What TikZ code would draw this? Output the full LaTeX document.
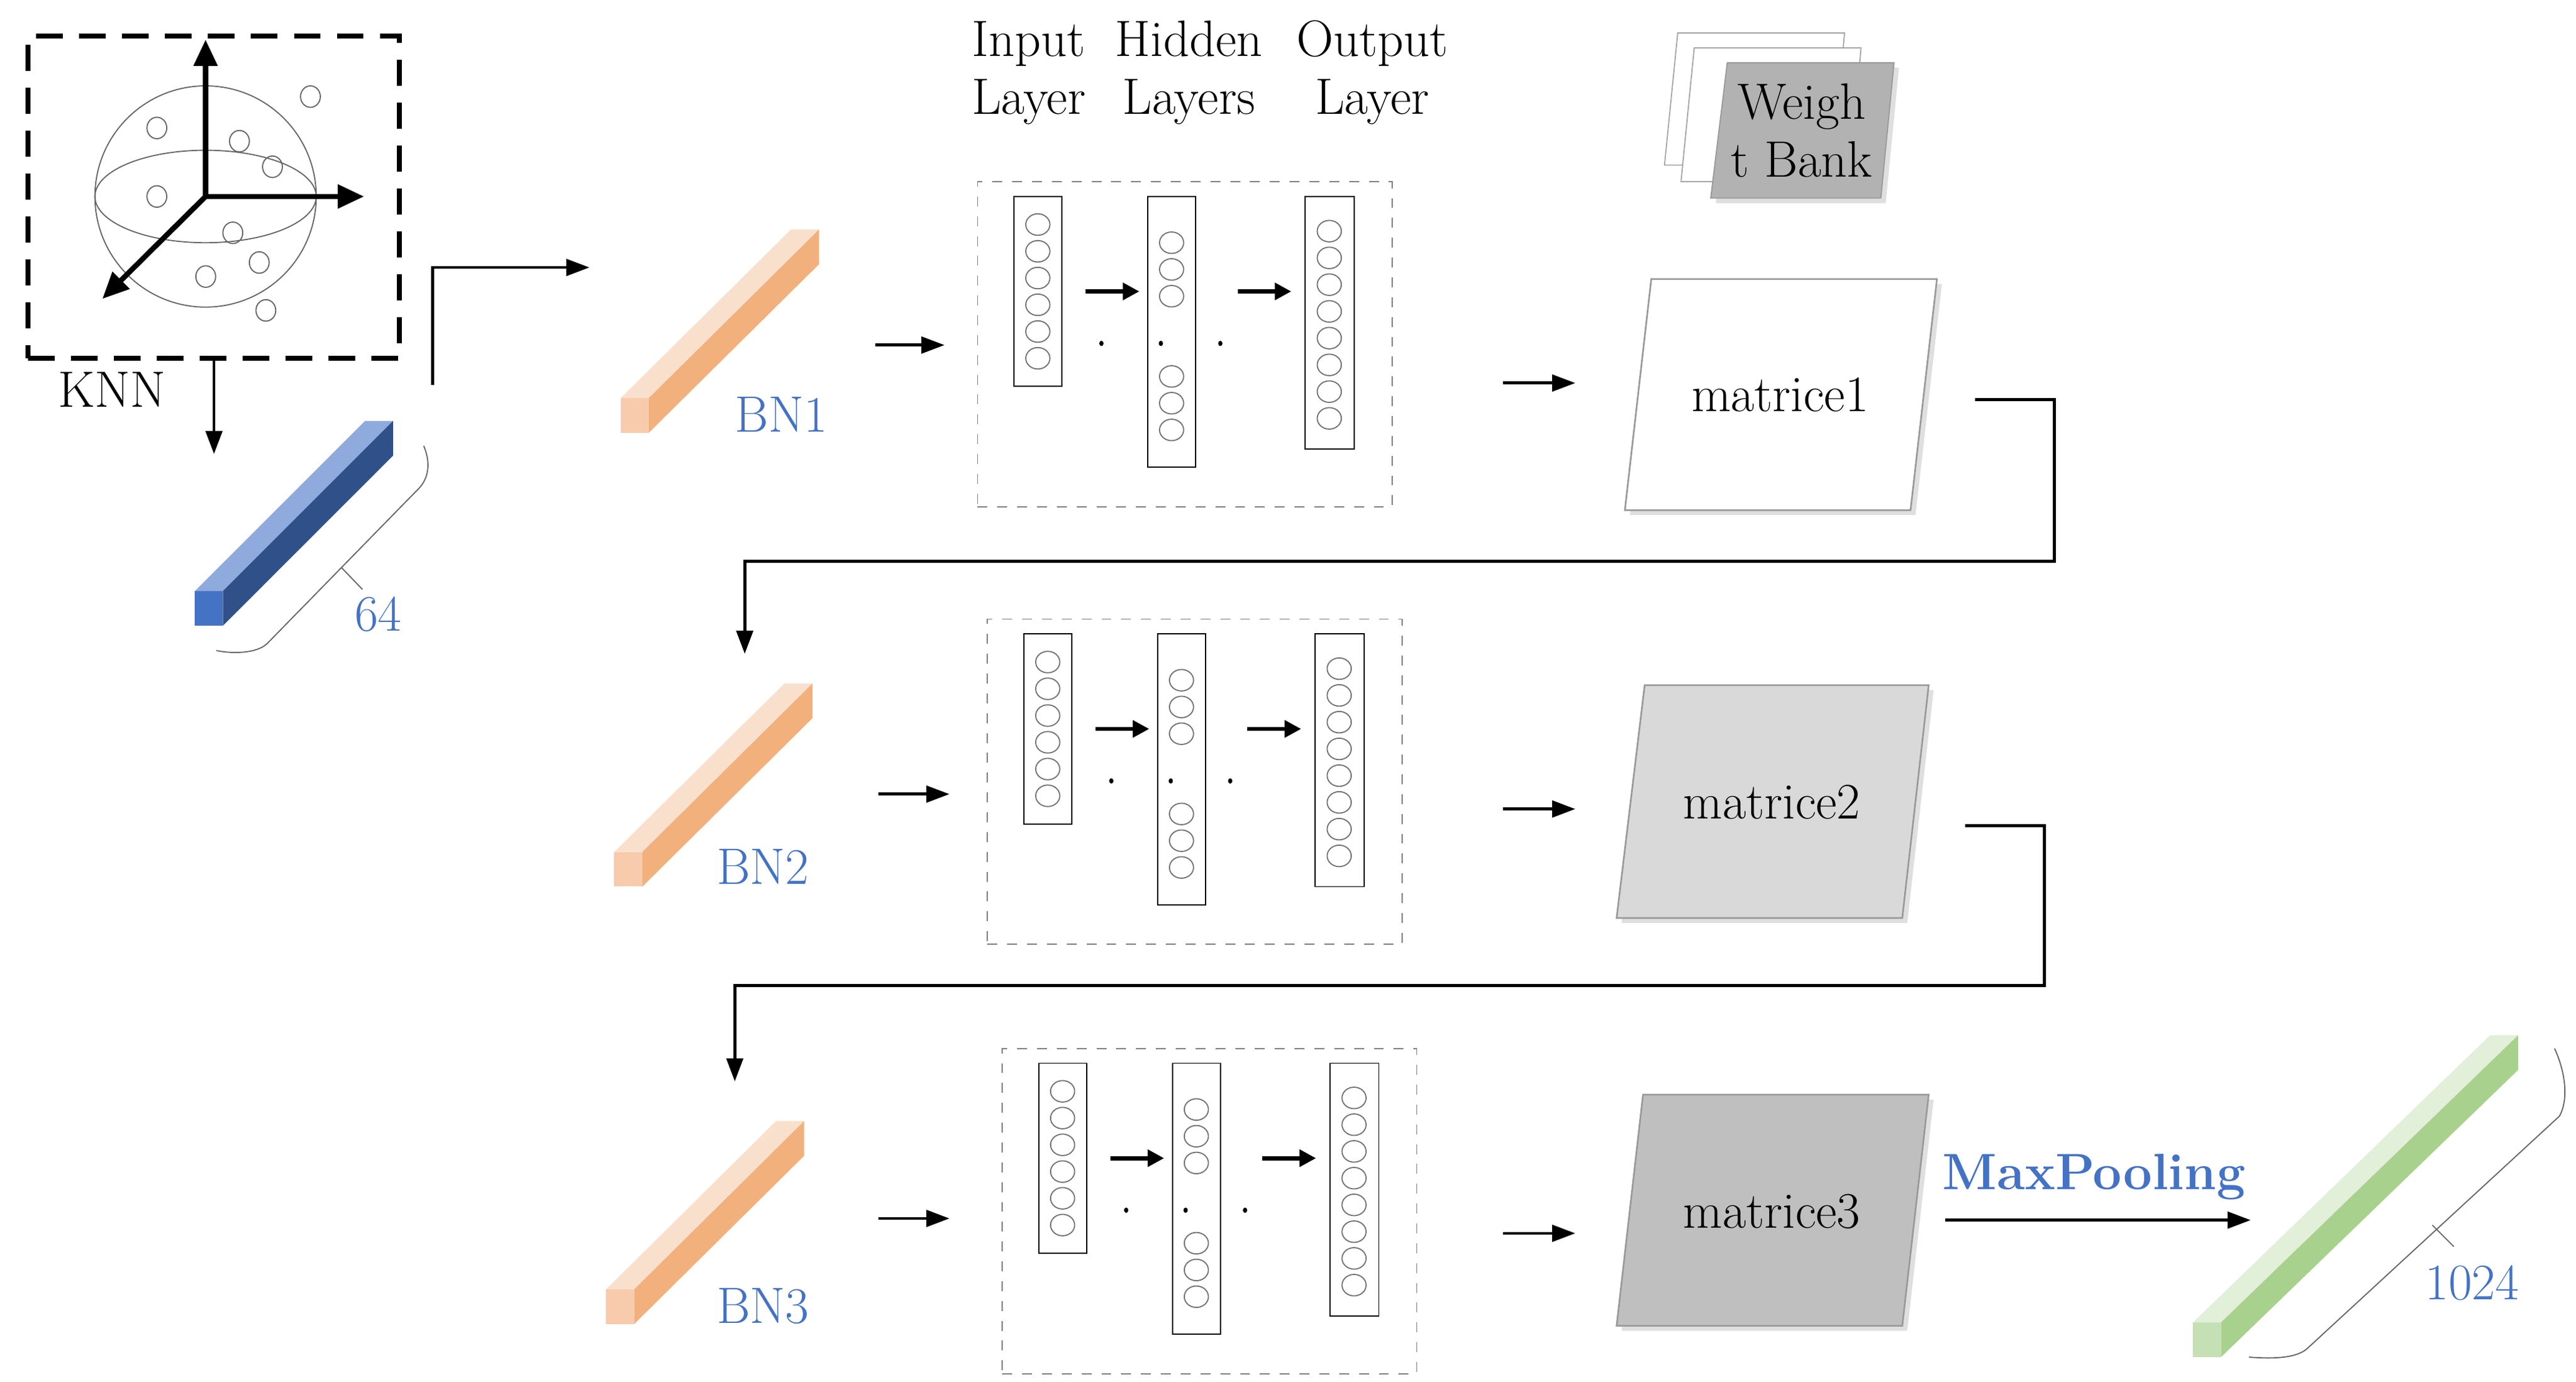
\documentclass[tikz,border=0pt]{standalone}
\usepackage{tikz}
\usetikzlibrary{arrows.meta,shadows}
\definecolor{lblue}{HTML}{4472C4}
\begin{document}
\begin{tikzpicture}[x=0.5pt,y=-0.5pt,
  conn/.style={line width=0.9pt,-{Triangle[length=7pt,width=5pt]}},
  lbl/.style={font=\fontsize{15.5}{17.5}\selectfont},
  blbl/.style={font=\fontsize{15.5}{17.5}\selectfont,text=lblue},
  thin/.style={line width=0.35pt},
  mat/.style={draw=gray!80,line width=0.5pt,drop shadow={opacity=0.25,shadow xshift=1.5pt,shadow yshift=-1.5pt}}]
\useasboundingbox (0,0) rectangle (1560,837);
\newcommand\mybar[7]{% x y dx dy front top right
  \fill[#5] (#1,#2) rectangle ++(17,21);
  \fill[#6] (#1,#2) -- ++(17,0) -- ++(#3,#4) -- ++(-17,0) -- cycle;
  \fill[#7] (#1+17,#2) -- ++(#3,#4) -- ++(0,21) -- ++(-#3,-#4) -- cycle;}
\newcommand\netbox[3]{%
 \begin{scope}[shift={(#1,#2)}]
  \node[draw=gray,dashed,thin,minimum width=125.5pt,minimum height=98.5pt,inner sep=0pt] (#3) at (125.5,98.5) {};
  \draw[thin] (22,9) rectangle (51,124);
  \foreach \k in {0,...,5} \draw[thin,gray!90!black] (36.5,26+16.2*\k) ellipse [x radius=7.3,y radius=6.5];
  \draw[thin] (103,9) rectangle (132,173);
  \foreach \yy in {37,53.2,69.4,118,134.2,150.4} \draw[thin,gray!90!black] (117.5,\yy) ellipse [x radius=7.3,y radius=6.5];
  \draw[thin] (198.5,9) rectangle (228,162);
  \foreach \k in {0,...,7} \draw[thin,gray!90!black] (213,30+16.2*\k) ellipse [x radius=7.3,y radius=6.5];
  \coordinate (#3a1) at (65.5,66.5); \coordinate (#3a2) at (98,66.5);
  \coordinate (#3b1) at (157.5,66.5); \coordinate (#3b2) at (190,66.5);
  \draw[line width=1.3pt,-{Triangle[length=5pt,width=5pt]}] (#3a1) -- (#3a2);
  \draw[line width=1.3pt,-{Triangle[length=5pt,width=5pt]}] (#3b1) -- (#3b2);
  \foreach \xx in {75,111,147} \fill (\xx,98) ellipse [x radius=1.3,y radius=1.6];
 \end{scope}}
% KNN box
\node[draw,dashed,line width=1.5pt,dash pattern=on 8pt off 5pt,minimum width=112.5pt,minimum height=97.5pt,inner sep=0pt] (knnbox) at (129.5,119.5) {};
\draw[thin,gray!80!black] (124.5,119) circle [radius=67];
\draw[thin,gray!80!black] (124.5,119) ellipse [x radius=67,y radius=28];
\foreach \p in {(95,77.5),(188,58.5),(145,85.5),(165,101),(95,119),(141,141),(157,159),(124.6,167.5),(161,188)}
  \draw[thin,gray!80!black] \p ellipse [x radius=6,y radius=6.5];
\coordinate (o) at (124.5,119);
\coordinate (ax1) at (124.5,24); \coordinate (ax2) at (220.5,119); \coordinate (ax3) at (62,181);
\foreach \t in {ax1,ax2,ax3} \draw[line width=1.6pt,-{Triangle[length=8pt,width=7pt]}] (o) -- (\t);
\node[lbl,anchor=west] (knn) at (28,236) {KNN};
% blue bar
\mybar{118}{358}{103}{-103}{lblue}{lblue!60}{lblue!70!black}
\node (bar64) at (178,318) {};
\draw[thin,gray!80!black] (256.6,270) .. controls (262,283) and (258,292) .. (252.5,297) -- (161.6,390) .. controls (155,396) and (140,396) .. (131,394);
\draw[thin,gray!80!black] (207,344) -- (219.5,357);
\node[blbl] (n64) at (229,372) {64};
\coordinate (k1) at (129.6,216); \coordinate (k2) at (129.6,275);
\draw[conn] (k1) -- (k2);
\coordinate (e1) at (262,233); \coordinate (e2) at (357,162);
\draw[conn] (e1) |- (e2);
% BN bars
\definecolor{ofront}{HTML}{F8CBAD}\definecolor{otop}{HTML}{F9E0CD}\definecolor{oside}{HTML}{F2B07C}
\mybar{376}{241}{103}{-102}{ofront}{otop}{oside}
\mybar{372}{516}{103}{-102}{ofront}{otop}{oside}
\mybar{367}{781}{103}{-102}{ofront}{otop}{oside}
\node[blbl] (bn1) at (473,251) {BN1};
\node[blbl] (bn2) at (462,525) {BN2};
\node[blbl] (bn3) at (462,791) {BN3};
% networks
\netbox{592}{110}{netA}
\netbox{598}{375}{netB}
\netbox{607}{635}{netC}
\coordinate (p1) at (530,209); \coordinate (q1) at (572,209);
\coordinate (p2) at (532,481); \coordinate (q2) at (575,481);
\coordinate (p3) at (532,738); \coordinate (q3) at (575,738);
\draw[conn] (p1) -- (q1); \draw[conn] (p2) -- (q2); \draw[conn] (p3) -- (q3);
\node[lbl,align=center] (il) at (623,44) {Input\\Layer};
\node[lbl,align=center] (hl) at (720,44) {Hidden\\Layers};
\node[lbl,align=center] (ol) at (831,44) {Output\\Layer};
% weight bank
\draw[fill=white,draw=gray!70,thin] (1016,20) -- (1117,20) -- (1110,100) -- (1008,100) -- cycle;
\draw[fill=white,draw=gray!70,thin] (1026,29) -- (1127,29) -- (1120,110) -- (1018,110) -- cycle;
\draw[fill=gray!60,draw=gray!80,thin,drop shadow={opacity=0.25,shadow xshift=1.5pt,shadow yshift=-1.5pt}] (1046,38) -- (1147,38) -- (1139,120) -- (1036,120) -- cycle;
\node[lbl,align=center] (wb) at (1091,79) {Weigh\\t Bank};
% matrices
\draw[mat,fill=white] (1000,169) -- (1173,169) -- (1157,309) -- (984,309) -- cycle;
\node[lbl] (m1) at (1078,239) {matrice1};
\draw[mat,fill=gray!30] (996,415) -- (1168,415) -- (1152,556) -- (979,556) -- cycle;
\node[lbl] (m2) at (1073,486) {matrice2};
\draw[mat,fill=gray!50] (995,663) -- (1168,663) -- (1152,803) -- (979,803) -- cycle;
\node[lbl] (m3) at (1073,734) {matrice3};
\coordinate (r1) at (910,232); \coordinate (s1) at (954,232);
\coordinate (r2) at (910,490); \coordinate (s2) at (954,490);
\coordinate (r3) at (910,747); \coordinate (s3) at (954,747);
\draw[conn] (r1) -- (s1); \draw[conn] (r2) -- (s2); \draw[conn] (r3) -- (s3);
% feedback connectors
\coordinate (f1) at (1196,242); \coordinate (g1) at (451,396);
\draw[conn] (f1) -- (1244,242) -- (1244,340) -- (451,340) -- (g1);
\coordinate (f2) at (1190,500); \coordinate (g2) at (445,655);
\draw[conn] (f2) -- (1238,500) -- (1238,597) -- (445,597) -- (g2);
% maxpooling
\coordinate (mp1) at (1178,739); \coordinate (mp2) at (1363,739);
\draw[conn] (mp1) -- (mp2);
\node[lbl,text=lblue,font=\fontsize{15.5}{17.5}\selectfont\bfseries] (mp) at (1268,713) {MaxPooling};
% green bar
\definecolor{gfront}{HTML}{C5E0B4}\definecolor{gtop}{HTML}{E2EFD9}\definecolor{gside}{HTML}{A9D18E}
\mybar{1328}{801}{180}{-174}{gfront}{gtop}{gside}
\draw[thin,gray!80!black] (1547,635) .. controls (1553,648) and (1556,665) .. (1550,676) -- (1397,817) .. controls (1390,823) and (1375,823) .. (1362,822);
\draw[thin,gray!80!black] (1473,742) -- (1486,755);
\node[blbl] (n1024) at (1497,777) {1024};
\end{tikzpicture}
\end{document}
